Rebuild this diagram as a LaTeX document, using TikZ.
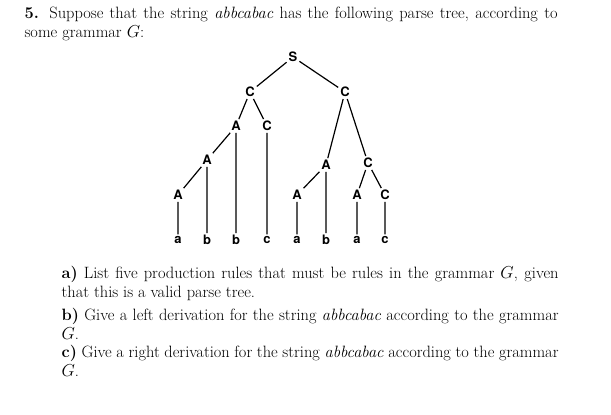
\documentclass[tikz,border=0pt]{standalone}
\usepackage{fontspec}
\newfontfamily\hv{TeX Gyre Heros}
\begin{document}
\begin{tikzpicture}[x=1pt,y=-1pt,line width=1.2pt,
  tn/.style={font=\hv\bfseries\fontsize{13}{13}\selectfont, inner sep=1.5pt},
  para/.style={anchor=north west, inner sep=0pt, align=justify, font=\fontsize{16.4}{19}\selectfont}]
\useasboundingbox (0,0) rectangle (611,415);
\node[para, text width=533pt] (q) at (24,6) {\hangindent=18pt\hangafter=1 \textbf{5.} Suppose that the string \emph{abbcabac} has the following parse tree, according to some grammar $G$:};
\node[tn] (S) at (293,57) {S};
\node[tn] (C1) at (250,92) {C};
\node[tn] (C2) at (345,92) {C};
\node[tn] (A1) at (236,126) {A};
\node[tn] (C3) at (267,126) {C};
\node[tn] (A2) at (207,160) {A};
\node[tn] (A3) at (326,165) {A};
\node[tn] (C4) at (368,163) {C};
\node[tn] (A4) at (178,195) {A};
\node[tn] (A5) at (297,195) {A};
\node[tn] (A6) at (357,195) {A};
\node[tn] (C5) at (385,195) {C};
\foreach \n/\x/\t in {l1/178/a,l2/207/b,l3/236/b,l4/267/c,l5/297/a,l6/326/b,l7/357/a,l8/385/c}
  \node[tn] (\n) at (\x,240) {\t};
\draw (S)--(C1) (S)--(C2) (C1)--(A1) (C1)--(C3) (A1)--(A2) (A1)--(l3) (C3)--(l4)
  (A2)--(A4) (A2)--(l2) (A4)--(l1) (C2)--(A3) (C2)--(C4) (A3)--(A5) (A3)--(l6)
  (A5)--(l5) (C4)--(A6) (C4)--(C5) (A6)--(l7) (C5)--(l8);
\node[para, text width=497pt] (ia) at (61,266) {\hangindent=20pt\hangafter=1 \textbf{a)} List five production rules that must be rules in the grammar $G$, given that this is a valid parse tree.};
\node[para, text width=497pt] (ib) at (61,308) {\hangindent=20pt\hangafter=1 \textbf{b)} Give a left derivation for the string \emph{abbcabac} according to the grammar $G$.};
\node[para, text width=497pt] (ic) at (61,345) {\hangindent=20pt\hangafter=1 \textbf{c)} Give a right derivation for the string \emph{abbcabac} according to the grammar $G$.};
\end{tikzpicture}
\end{document}
